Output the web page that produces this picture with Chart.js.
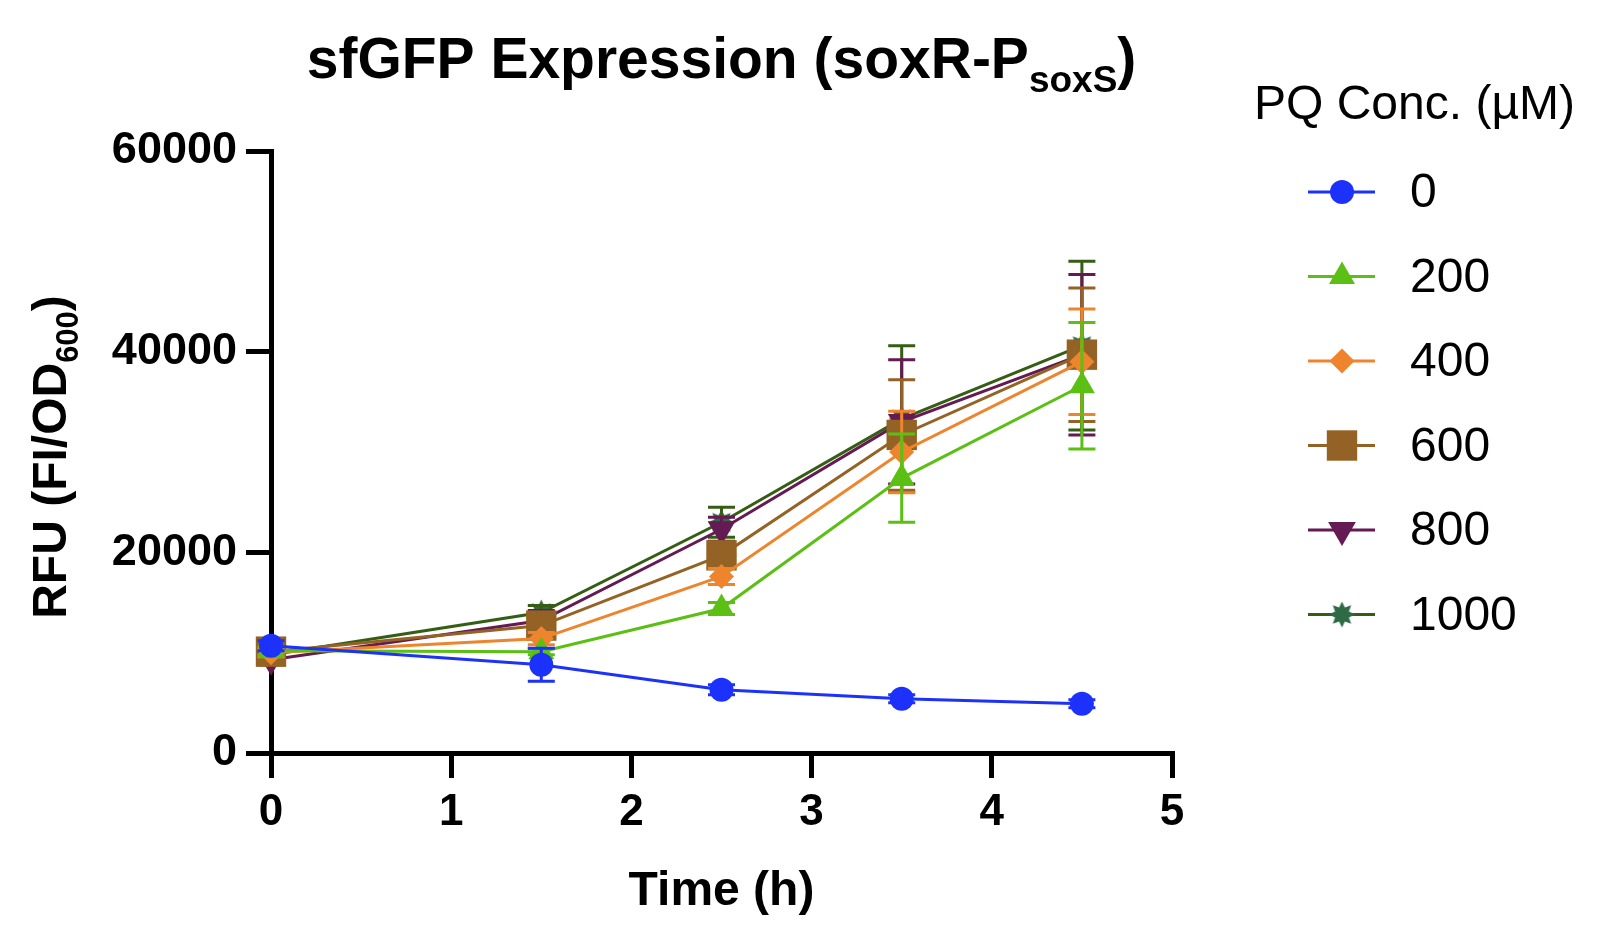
<!DOCTYPE html>
<html lang="en">
<head>
<meta charset="UTF-8">
<title>sfGFP Expression (soxR-PsoxS)</title>
<script src="https://cdn.jsdelivr.net/npm/chart.js"></script>
<style>
  html, body { margin: 0; padding: 0; background: #fff; }
</style>
</head>
<body>
<canvas id="pqChart" width="1600" height="938"></canvas>
<script>
// time points (h)
const times = [0, 1.5, 2.5, 3.5, 4.5];
// PQ concentrations (uM) - legend labels
const concLabels = ['0', '200', '400', '600', '800', '1000'];

// mean RFU per concentration
const rfu0    = [10700, 8800, 6300, 5400, 4900];
const rfu200  = [10200, 10100, 14400, 27400, 36600];
const rfu400  = [10000, 11400, 17600, 30000, 39000];
const rfu600  = [10100, 12700, 19700, 31700, 39700];
const rfu800  = [9300, 13200, 22300, 33000, 39700];
const rfu1000 = [9800, 14000, 23000, 33300, 40600];

// error bars (+/-)
const err0    = [500, 1650, 500, 400, 400];
const err200  = [400, 300, 600, 4400, 6300];
const err400  = [400, 600, 800, 4050, 5250];
const err600  = [500, 800, 1000, 5500, 6650];
const err800  = [500, 1000, 1200, 6200, 8000];
const err1000 = [500, 700, 1500, 7300, 8400];

const yTicks = [0, 20000, 40000, 60000];
const xTicks = [0, 1, 2, 3, 4, 5];

const FONT = "'Liberation Sans', Arial, Helvetica, sans-serif";

function makeStar(color, size) {
    const c = document.createElement('canvas');
    c.width = c.height = size;
    const g = c.getContext('2d');
    const cx = size / 2, R = size / 2 - 0.5, r = R * 0.58;
    g.fillStyle = color;
    g.beginPath();
    for (let k = 0; k < 16; k++) {
        const a = -Math.PI / 2 + k * Math.PI / 8;
        const rr = k % 2 === 0 ? R : r;
        g.lineTo(cx + rr * Math.cos(a), cx + rr * Math.sin(a));
    }
    g.closePath();
    g.fill();
    return c;
}
const starImg = makeStar('#2e6a46', 27);

function series(values, errs, label, line, fill, style, radius, rotation) {
    return {
        label: label,
        data: times.map((t, i) => ({ x: t, y: values[i] })),
        errors: errs,
        borderColor: line,
        backgroundColor: fill,
        pointBackgroundColor: fill,
        pointBorderColor: fill,
        pointBorderWidth: 0,
        pointStyle: style,
        pointRadius: radius,
        pointHoverRadius: radius,
        pointRotation: rotation || 0,
        borderWidth: 3,
        tension: 0,
        clip: false
    };
}

const datasets = [
    series(rfu0, err0, concLabels[0], '#1c32fa', '#1c32fa', 'circle', 12),
    series(rfu200, err200, concLabels[1], '#5bbf14', '#5bbf14', 'triangle', 15),
    series(rfu400, err400, concLabels[2], '#ee842c', '#ee842c', 'rectRot', 12.5),
    series(rfu600, err600, concLabels[3], '#946224', '#946224', 'rect', 21.5),
    series(rfu800, err800, concLabels[4], '#641a52', '#641a52', 'triangle', 16, 180),
    series(rfu1000, err1000, concLabels[5], '#355e14', '#2e6a46', starImg, 13)
];

// error bars drawn right after each dataset
const errorBars = {
    id: 'errorBars',
    afterDatasetDraw(chart, args) {
        const ds = chart.data.datasets[args.index];
        if (!ds.errors) return;
        const xs = chart.scales.x, ys = chart.scales.y, ctx = chart.ctx;
        ctx.save();
        ctx.strokeStyle = ds.borderColor;
        ctx.lineWidth = 3;
        ds.data.forEach((p, i) => {
            const e = ds.errors[i];
            const px = xs.getPixelForValue(p.x);
            const top = ys.getPixelForValue(p.y + e);
            const bot = ys.getPixelForValue(p.y - e);
            ctx.beginPath();
            ctx.moveTo(px, top); ctx.lineTo(px, bot);
            ctx.moveTo(px - 13.5, top); ctx.lineTo(px + 13.5, top);
            ctx.moveTo(px - 13.5, bot); ctx.lineTo(px + 13.5, bot);
            ctx.stroke();
        });
        ctx.restore();
    }
};

// text runs with subscripts
function runWidth(ctx, parts) {
    let w = 0;
    parts.forEach(p => { ctx.font = p.font; w += ctx.measureText(p.t).width; });
    return w;
}
function drawRuns(ctx, parts, x, y) {
    parts.forEach(p => {
        ctx.font = p.font;
        ctx.fillText(p.t, x, y + (p.dy || 0));
        x += ctx.measureText(p.t).width;
    });
}

function drawMarker(ctx, ds, x, y) {
    const r = ds.pointRadius;
    ctx.fillStyle = ds.pointBackgroundColor;
    const s = ds.pointStyle;
    if (typeof s !== 'string') {
        ctx.drawImage(s, x - s.width / 2, y - s.height / 2);
        return;
    }
    ctx.beginPath();
    if (s === 'circle') {
        ctx.arc(x, y, r, 0, Math.PI * 2);
    } else if (s === 'rect') {
        const h = r * Math.SQRT1_2;
        ctx.rect(x - h, y - h, 2 * h, 2 * h);
    } else if (s === 'rectRot') {
        ctx.moveTo(x, y - r); ctx.lineTo(x + r, y); ctx.lineTo(x, y + r); ctx.lineTo(x - r, y);
    } else if (s === 'triangle') {
        const rot = (ds.pointRotation || 0) * Math.PI / 180;
        for (let k = 0; k < 3; k++) {
            const a = rot + k * 2 * Math.PI / 3;
            ctx.lineTo(x + Math.sin(a) * r, y - Math.cos(a) * r);
        }
    }
    ctx.closePath();
    ctx.fill();
}

const decorations = {
    id: 'decorations',
    afterDraw(chart) {
        const ctx = chart.ctx;
        const area = chart.chartArea;
        ctx.save();
        ctx.fillStyle = '#000';
        ctx.textBaseline = 'alphabetic';
        ctx.textAlign = 'left';

        // title
        const tParts = [
            { t: 'sfGFP Expression (soxR-P', font: 'bold 57px ' + FONT },
            { t: 'soxS', font: 'bold 37px ' + FONT, dy: 14 },
            { t: ')', font: 'bold 57px ' + FONT }
        ];
        const tw = runWidth(ctx, tParts);
        drawRuns(ctx, tParts, (area.left + area.right) / 2 - tw / 2, 78);

        // x axis title
        ctx.font = 'bold 48px ' + FONT;
        ctx.textAlign = 'center';
        ctx.fillText('Time (h)', (area.left + area.right) / 2, 905);
        ctx.textAlign = 'left';

        // y axis title (rotated)
        const yParts = [
            { t: 'RFU (FI/OD', font: 'bold 48px ' + FONT },
            { t: '600', font: 'bold 31px ' + FONT, dy: 12 },
            { t: ')', font: 'bold 48px ' + FONT }
        ];
        ctx.translate(66, 457);
        ctx.rotate(-Math.PI / 2);
        const yw = runWidth(ctx, yParts);
        drawRuns(ctx, yParts, -yw / 2, 0);
        ctx.setTransform(1, 0, 0, 1, 0, 0);

        // legend
        ctx.font = '48px ' + FONT;
        ctx.textBaseline = 'middle';
        ctx.fillText('PQ Conc. (\u00b5M)', 1254, 106);
        chart.data.datasets.forEach((ds, i) => {
            const y = 192 + i * 84.5;
            ctx.strokeStyle = ds.borderColor;
            ctx.lineWidth = 3;
            ctx.beginPath();
            ctx.moveTo(1308, y); ctx.lineTo(1375, y);
            ctx.stroke();
            drawMarker(ctx, ds, 1342, y);
            ctx.fillStyle = '#000';
            ctx.font = '48px ' + FONT;
            ctx.fillText(ds.label, 1410, y + 2);
        });
        ctx.restore();
    }
};

const axisGrid = {
    display: true,
    drawOnChartArea: false,
    drawTicks: true,
    tickLength: 25,
    color: '#000',
    lineWidth: 5
};

const config = {
    type: 'line',
    data: { datasets: datasets },
    options: {
        responsive: false,
        animation: false,
        events: [],
        layout: { padding: { left: 0, right: 428, top: 151, bottom: 85 } },
        plugins: {
            legend: { display: false },
            title: { display: false },
            tooltip: { enabled: false }
        },
        scales: {
            x: {
                type: 'linear',
                min: 0,
                max: 5,
                afterBuildTicks(s) { s.ticks = xTicks.map(v => ({ value: v })); },
                ticks: {
                    font: { family: FONT, size: 44, weight: 'bold' },
                    color: '#000',
                    padding: 8,
                    maxRotation: 0
                },
                grid: axisGrid,
                border: { display: true, color: '#000', width: 5 },
                afterFit(s) { s.height = 100; }
            },
            y: {
                type: 'linear',
                min: 0,
                max: 60000,
                afterBuildTicks(s) { s.ticks = yTicks.map(v => ({ value: v })); },
                ticks: {
                    font: { family: FONT, size: 45, weight: 'bold' },
                    color: '#000',
                    padding: 9,
                    callback: v => String(v)
                },
                grid: axisGrid,
                border: { display: true, color: '#000', width: 5 },
                afterFit(s) { s.width = 271; }
            }
        }
    },
    plugins: [errorBars, decorations]
};

new Chart(document.getElementById('pqChart').getContext('2d'), config);
</script>
</body>
</html>
